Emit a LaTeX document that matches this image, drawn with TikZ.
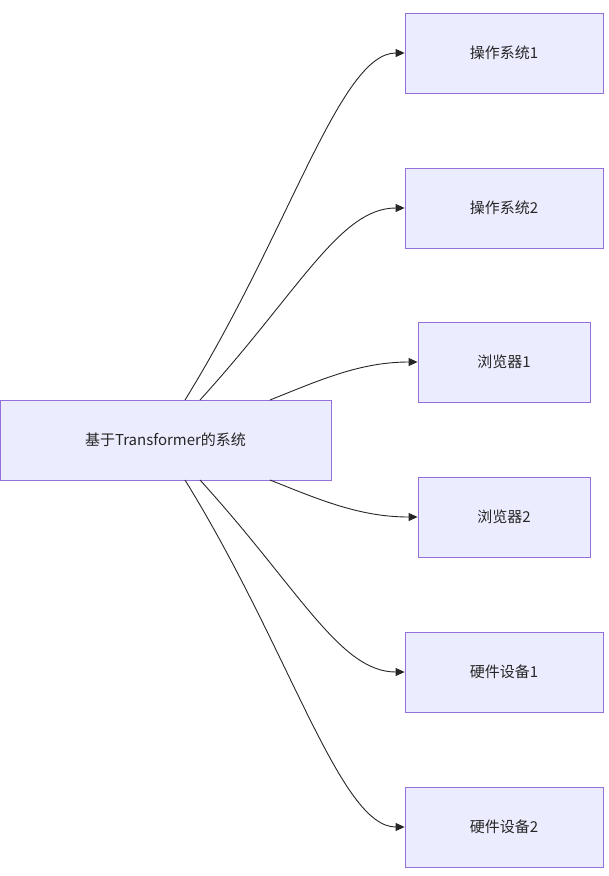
\documentclass[tikz,border=0pt]{standalone}
\usepackage{fontspec}
\setmainfont{Liberation Sans}
\newfontfamily\cjk{Noto Sans CJK SC}
\usetikzlibrary{arrows.meta}
\definecolor{boxfill}{HTML}{ECECFF}
\definecolor{boxline}{HTML}{9370DB}
\tikzset{
  box/.style={draw=boxline,fill=boxfill,line width=0.8pt,minimum height=80pt,font=\cjk\fontsize{15}{18}\selectfont,text=black!85,inner sep=0pt},
  link/.style={draw=black!85,line width=0.9pt,-{Triangle[length=9pt,width=8pt]}}
}
\begin{document}
\begin{tikzpicture}[x=1pt,y=-1pt]
\useasboundingbox (0,0) rectangle (609,876);
\node[box,minimum width=331pt] (src) at (165.5,440) {基于Transformer的系统};
\node[box,minimum width=198pt] (o1) at (504,53) {操作系统1};
\node[box,minimum width=198pt] (o2) at (504,208) {操作系统2};
\node[box,minimum width=172pt] (b1) at (504,362) {浏览器1};
\node[box,minimum width=172pt] (b2) at (504,517) {浏览器2};
\node[box,minimum width=198pt] (h1) at (504,672) {硬件设备1};
\node[box,minimum width=198pt] (h2) at (504,827) {硬件设备2};
\coordinate (s1) at (185,400);
\coordinate (s2) at (200,400);
\coordinate (s3) at (270,400);
\coordinate (s4) at (270,480);
\coordinate (s5) at (200,480);
\coordinate (s6) at (185,480);
\draw[link] (s1) .. controls (290,230) and (340,53) .. (o1.west);
\draw[link] (s2) .. controls (300,290) and (340,208) .. (o2.west);
\draw[link] (s3) .. controls (320,380) and (360,362) .. (b1.west);
\draw[link] (s4) .. controls (320,500) and (360,517) .. (b2.west);
\draw[link] (s5) .. controls (300,590) and (340,672) .. (h1.west);
\draw[link] (s6) .. controls (290,650) and (340,827) .. (h2.west);
\end{tikzpicture}
\end{document}
